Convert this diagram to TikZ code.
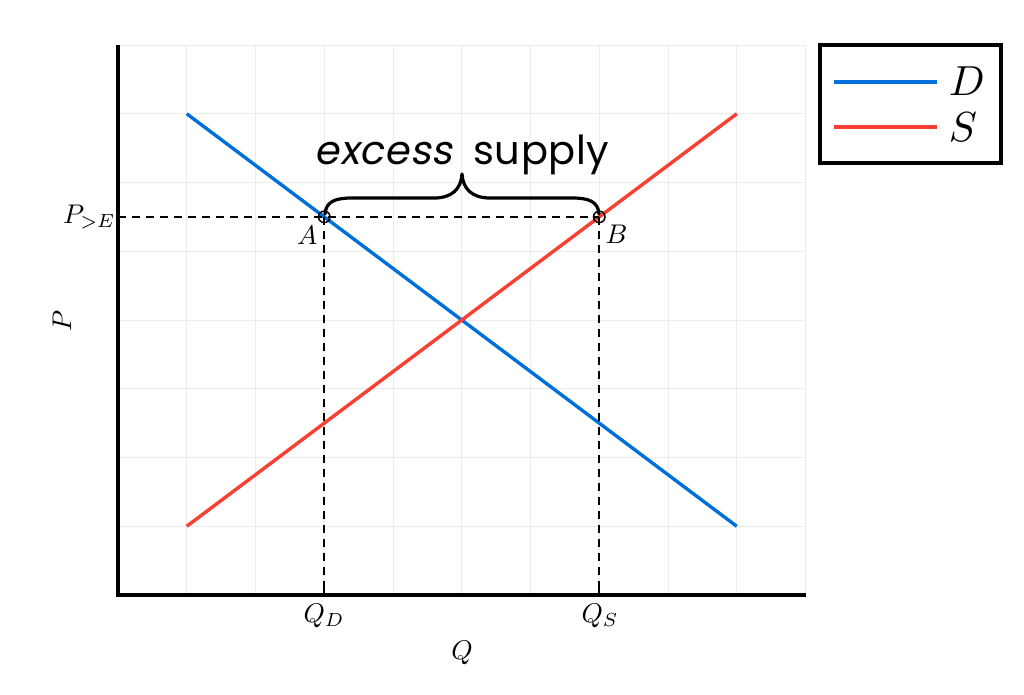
\documentclass[tikz,border=0pt]{standalone}
\usepackage{fontspec}
\newfontfamily\annfont{Poppins}[LetterSpace=1.5]
\newfontfamily\annslant{Poppins}[LetterSpace=1.5,FakeSlant=0.18]
\definecolor{dblue}{RGB}{0,112,221}
\definecolor{sred}{RGB}{250,62,50}
\definecolor{gridgray}{RGB}{236,236,236}
\begin{document}
\begin{tikzpicture}[x=1pt,y=-1pt,
  gridline/.style={draw=gridgray,line width=0.9pt},
  axisline/.style={line width=3.6pt},
  curve/.style={line width=3.4pt},
  guide/.style={dash pattern=on 8pt off 6pt, line width=1.8pt},
  lbl/.style={inner sep=0pt, scale=2.7},
  legl/.style={inner sep=0pt, scale=4.2},
  ptmark/.style={circle, draw, line width=1.5pt, minimum size=11.5pt, inner sep=0pt},
  bracestyle/.style={line width=3.2pt, line cap=round, line join=round}]
\useasboundingbox (0,0) rectangle (1024,694);
% grid
\foreach \k in {1,...,10} \draw[gridline] ({118+68.75*\k},45) -- ({118+68.75*\k},595);
\foreach \k in {0,...,7} \draw[gridline] (118,{45+68.75*\k}) -- (806,{45+68.75*\k});
% axes
\coordinate (ytop) at (118,45);
\coordinate (orig) at (118,595);
\coordinate (xend) at (806,595);
\draw[axisline] (ytop) -- (orig) -- (xend);
% curves
\coordinate (D1) at (186.75,113.75);
\coordinate (D2) at (736.75,526.25);
\coordinate (S1) at (186.75,526.25);
\coordinate (S2) at (736.75,113.75);
\draw[curve, dblue] (D1) -- (D2);
\draw[curve, sred] (S1) -- (S2);
% points
\node[ptmark] (A) at (324.25,216.875) {};
\node[ptmark] (B) at (599.25,216.875) {};
\coordinate (PE) at (118,216.875);
\coordinate (QDb) at (324.25,595);
\coordinate (QSb) at (599.25,595);
\draw[guide] (PE) -- (B.center);
\draw[guide] (A.center) -- (QDb);
\draw[guide] (B.center) -- (QSb);
% ticks
\draw[line width=1.8pt] (QDb) -- ++(0,-11);
\draw[line width=1.8pt] (QSb) -- ++(0,-11);
% brace
\draw[bracestyle] (325,214) .. controls (326,201) and (336,198) .. (352,198) -- (434,198)
  .. controls (452,198) and (461,189) .. (462,174)
  .. controls (463,189) and (472,198) .. (490,198) -- (572,198)
  .. controls (588,198) and (598,201) .. (599,214);
\node[inner sep=0pt, anchor=base, font=\fontsize{40}{46}\selectfont] (ex) at (462,164) {{\annslant excess}\hspace{21pt}{\annfont supply}};
% labels
\node[lbl, anchor=base east] (pl) at (116,223) {$P_{>E}$};
\node[lbl, anchor=base east] (al) at (318,244) {$A$};
\node[lbl, anchor=base west] (bl) at (605,243) {$B$};
\node[lbl, anchor=north] (qd) at (324,603) {$Q_D$};
\node[lbl, anchor=north] (qs) at (600,603) {$Q_S$};
\node[lbl, anchor=base] (ql) at (462,659) {$Q$};
\node[lbl, rotate=90] (plab) at (62,321) {$P$};
% legend
\node[draw, line width=3.4pt, inner sep=0pt, minimum width=181pt, minimum height=118pt] (leg) at (910.5,104) {};
\coordinate (l1a) at (834,82);
\coordinate (l1b) at (937,82);
\coordinate (l2a) at (834,127);
\coordinate (l2b) at (937,127);
\draw[curve, dblue] (l1a) -- (l1b);
\draw[curve, sred] (l2a) -- (l2b);
\node[legl, anchor=base west] (dl) at (948,95) {$D$};
\node[legl, anchor=base west] (sl) at (948,141) {$S$};
\end{tikzpicture}
\end{document}
